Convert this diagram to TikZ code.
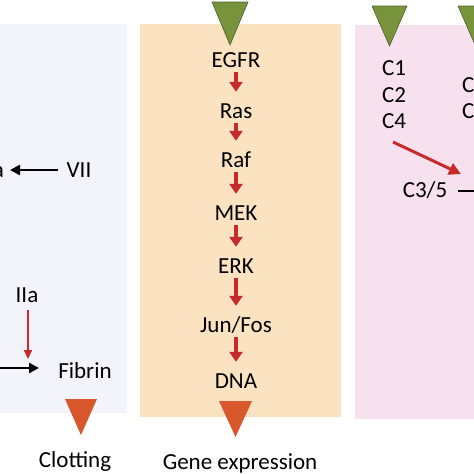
\documentclass[tikz,border=0pt]{standalone}
\usepackage{fontspec}
\setmainfont{Carlito}
\usetikzlibrary{arrows.meta}
\definecolor{panelA}{HTML}{F2F3FB}
\definecolor{panelB}{HTML}{FBE3C2}
\definecolor{panelC}{HTML}{F8E1EE}
\definecolor{triG}{HTML}{77933C}
\definecolor{triGd}{HTML}{4F6228}
\definecolor{triO}{HTML}{D9572D}
\definecolor{redA}{HTML}{C62A2A}
\tikzset{
  lbl/.style={inner sep=0pt, font=\fontsize{23}{26}\selectfont, text height=15pt, text depth=4pt},
  redstep/.style={draw=redA, line width=3.4pt, -{Triangle[width=13pt,length=10pt]}},
  redthin/.style={draw=redA, line width=1.8pt, -{Triangle[width=8pt,length=9pt]}},
  redbig/.style={draw=redA, line width=3pt, -{Triangle[width=12pt,length=12pt]}},
  blackarr/.style={draw=black, line width=2.4pt, -{Triangle[width=10pt,length=10pt]}},
  blackline/.style={draw=black, line width=2.4pt},
  greentri/.style={fill=triG, draw=triGd, line width=0.6pt},
  orangetri/.style={fill=triO},
}
\begin{document}
\begin{tikzpicture}[x=1pt,y=1pt]
\useasboundingbox (0,0) rectangle (474,-474);
\fill[white] (0,0) rectangle (474,-474);
% panels
\fill[panelA] (0,-24) rectangle (127,-413);
\fill[panelB] (140,-24) rectangle (341,-417);
\fill[panelC] (355,-25) rectangle (474,-419);
% triangles
\draw[greentri] (212,-2) -- (248,-2) -- (230,-45) -- cycle;
\draw[greentri] (372,-6) -- (407,-6) -- (389.5,-46) -- cycle;
\draw[greentri] (458,-6) -- (493,-6) -- (475.5,-46) -- cycle;
\fill[orangetri] (65,-399) -- (97,-399) -- (81,-435) -- cycle;
\fill[orangetri] (219,-401) -- (252,-401) -- (235.5,-437) -- cycle;
% middle column
\node[lbl, anchor=base] (egfr) at (236,-67) {EGFR};
\node[lbl, anchor=base] (ras) at (236,-118) {Ras};
\node[lbl, anchor=base] (raf) at (236,-167) {Raf};
\node[lbl, anchor=base] (mek) at (236,-220) {MEK};
\node[lbl, anchor=base] (erk) at (236,-273) {ERK};
\node[lbl, anchor=base] (jun) at (236,-332) {Jun/Fos};
\node[lbl, anchor=base] (dna) at (236,-388) {DNA};
\draw[redstep, shorten <=1pt, shorten >=11pt] (egfr.south) -- (ras.north);
\draw[redstep, shorten <=1pt, shorten >=11pt] (ras.south) -- (raf.north);
\draw[redstep, shorten <=1pt, shorten >=11pt] (raf.south) -- (mek.north);
\draw[redstep, shorten <=1pt, shorten >=11pt] (mek.south) -- (erk.north);
\draw[redstep, shorten <=1pt, shorten >=11pt] (erk.south) -- (jun.north);
\draw[redstep, shorten <=1pt, shorten >=11pt] (jun.south) -- (dna.north);
\node[lbl, anchor=base] (gene) at (240,-469) {Gene expression};
% left column
\node[lbl, anchor=base] (vii) at (79,-177) {VII};
\node[lbl, anchor=base east] (xa) at (4,-177) {Xa};
\draw[blackarr] (58,-170) -- (10,-170);
\node[lbl, anchor=base] (iia) at (27,-302) {IIa};
\node[lbl, anchor=base] (fibrin) at (85,-378) {Fibrin};
\coordinate (bstart) at (0,-368);
\coordinate (bend) at (39,-368);
\coordinate (rend) at (28,-359);
\draw[blackarr] (bstart) -- (bend);
\draw[redthin] (28,-310) -- (rend);
\node[lbl, anchor=base] (clot) at (75,-467) {Clotting};
% right column
\node[lbl, anchor=base west] (c1) at (382,-75) {C1};
\node[lbl, anchor=base west] (c2) at (382,-102) {C2};
\node[lbl, anchor=base west] (c4) at (382,-128) {C4};
\node[lbl, anchor=base west] (cr1) at (462,-92) {C};
\node[lbl, anchor=base west] (cr2) at (462,-118) {C};
\node[lbl, anchor=base] (c35) at (425,-197) {C3/5};
\coordinate (c35tip) at (461,-174);
\draw[redbig] (393,-142) -- (c35tip);
\coordinate (lineend) at (474,-191);
\draw[blackline] (458,-191) -- (lineend);
\end{tikzpicture}
\end{document}
